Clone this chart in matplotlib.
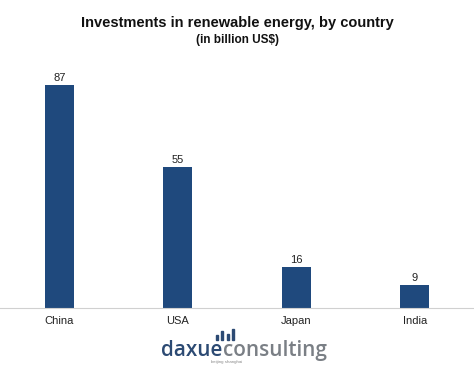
import matplotlib.pyplot as plt
from matplotlib.patches import Rectangle

# data
countries = ['China', 'USA', 'Japan', 'India']
investments = [87, 55, 16, 9]

plt.rcParams['font.family'] = ['Liberation Sans', 'DejaVu Sans']

W, H = 474, 367
fig = plt.figure(figsize=(W / 100, H / 100), dpi=100)
ax = fig.add_axes([0.0, 0.161, 1.0, 0.648])

bars = ax.bar(range(len(countries)), investments, width=0.245, color='#1F497D')
for b, v in zip(bars, investments):
    ax.text(b.get_x() + b.get_width() / 2, v + 0.8, str(v),
            ha='center', va='bottom', fontsize=8, color='#222222')

ax.set_xlim(-0.5, len(countries) - 0.5)
ax.set_ylim(0, 92.9)
ax.set_xticks(range(len(countries)))
ax.set_xticklabels(countries, fontsize=8, color='#222222')
ax.tick_params(axis='x', length=0, pad=6)
ax.set_yticks([])
for s in ['top', 'right', 'left']:
    ax.spines[s].set_visible(False)
ax.spines['bottom'].set_color('#d0d0d0')
ax.spines['bottom'].set_linewidth(0.8)

# titles
fig.text(0.5, 1 - 23 / H, 'Investments in renewable energy, by country',
         ha='center', va='center', fontsize=10.5, fontweight='bold', color='#111111')
fig.text(0.5, 1 - 40 / H, '(in billion US$)',
         ha='center', va='center', fontsize=8.5, fontweight='bold', color='#111111')

# logo: "daxueconsulting" spans x=161..327, baseline y=356
r = fig.canvas.get_renderer()
t1 = fig.text(161 / W, 1 - 356 / H, 'daxue', ha='left', va='baseline',
              fontsize=15, fontweight='semibold', color='#2C4A73', family='Open Sans')
t2 = fig.text(161 / W, 1 - 356 / H, 'consulting', ha='left', va='baseline',
              fontsize=15, fontweight='semibold', color='#7a7f85', family='Open Sans')
w1 = t1.get_window_extent(r).width
w2 = t2.get_window_extent(r).width
fs = 15 * 166 / (w1 + w2)
t1.set_fontsize(fs)
t2.set_fontsize(fs)
x_end = 161 + w1 * fs / 15
t2.set_x(x_end / W)
fig.text((x_end + 4) / W, 1 - 362 / H, 'beijing shanghai', ha='center', va='center',
         fontsize=3.2, color='#8a8a8a')
for dx, h in [(-7, 5), (-2, 9), (4, 6), (9, 11)]:
    fig.patches.append(Rectangle(((x_end + dx) / W, 1 - 340 / H), 2.5 / W, h / H,
                                 transform=fig.transFigure, color='#2C4A73'))

fig.savefig('out.png', dpi=100)
